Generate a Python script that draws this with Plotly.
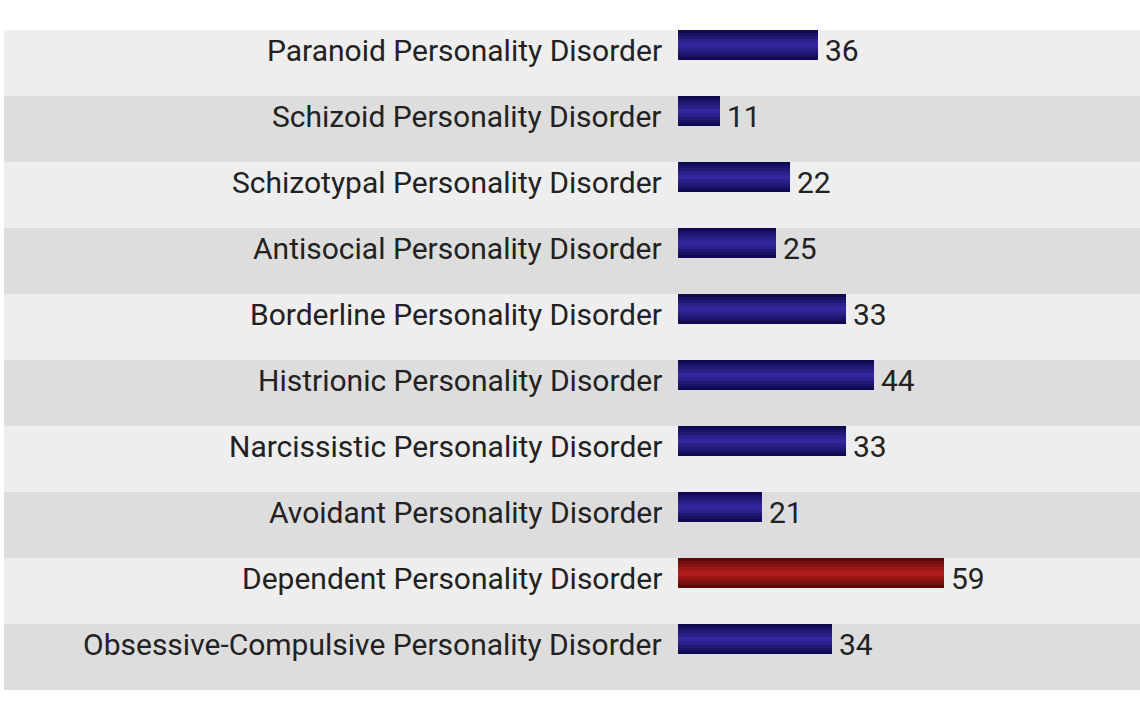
import plotly.graph_objects as go

disorders = [
    "Paranoid Personality Disorder",
    "Schizoid Personality Disorder",
    "Schizotypal Personality Disorder",
    "Antisocial Personality Disorder",
    "Borderline Personality Disorder",
    "Histrionic Personality Disorder",
    "Narcissistic Personality Disorder",
    "Avoidant Personality Disorder",
    "Dependent Personality Disorder",
    "Obsessive-Compulsive Personality Disorder",
]
raw_scores = [10, 3, 8, 7, 12, 14, 12, 6, 19, 11]
percent_labels = [36, 11, 22, 25, 33, 44, 33, 21, 59, 34]
highlight = "Dependent Personality Disorder"

n = len(disorders)
idx = list(range(n))
bar_w = 30 / 66
bar_center = -0.5 + bar_w / 2

blue_layers = ["#120a50", "#1a1264", "#211978", "#2a2088", "#3426a0"]
red_layers = ["#5c0808", "#760d0d", "#8a1212", "#9c1616", "#b01c1c"]
fracs = [1.0, 0.8, 0.6, 0.4, 0.18]

fig = go.Figure()
for k, f in enumerate(fracs):
    w = bar_w * f
    colors = [red_layers[k] if d == highlight else blue_layers[k] for d in disorders]
    fig.add_trace(go.Bar(
        x=raw_scores, y=idx, orientation="h",
        width=[w] * n, offset=bar_center - w / 2,
        marker=dict(color=colors, line=dict(width=0)),
        hoverinfo="skip", showlegend=False,
    ))

shapes = []
for i in idx:
    shapes.append(dict(
        type="rect", xref="paper", yref="y",
        x0=-674 / 462, x1=1, y0=i - 0.5, y1=i + 0.5,
        fillcolor="#eeeeee" if i % 2 == 0 else "#dddddd",
        line=dict(width=0), layer="below",
    ))

annotations = []
for i, (d, s, p) in enumerate(zip(disorders, raw_scores, percent_labels)):
    annotations.append(dict(
        x=0, y=i + bar_center, xref="paper", yref="y",
        text=d, showarrow=False, xanchor="right", yanchor="middle",
        xshift=-14, yshift=-5, font=dict(family="Roboto", size=30, color="#222222"),
    ))
    annotations.append(dict(
        x=s, y=i + bar_center, xref="x", yref="y",
        text=str(p), showarrow=False, xanchor="left", yanchor="middle",
        xshift=5, yshift=-5, font=dict(family="Roboto", size=30, color="#222222"),
    ))

fig.update_layout(
    width=1140, height=726,
    margin=dict(l=678, r=0, t=30, b=36),
    paper_bgcolor="white", plot_bgcolor="rgba(0,0,0,0)",
    barmode="overlay",
    shapes=shapes, annotations=annotations,
    xaxis=dict(range=[0, 462 / 14], visible=False, fixedrange=True),
    yaxis=dict(range=[n - 0.5, -0.5], visible=False, fixedrange=True),
    showlegend=False,
)

fig.write_html(
    "out.html",
    config={"displayModeBar": False},
    post_script="document.body.style.margin='0';document.body.style.overflow='hidden';",
)
